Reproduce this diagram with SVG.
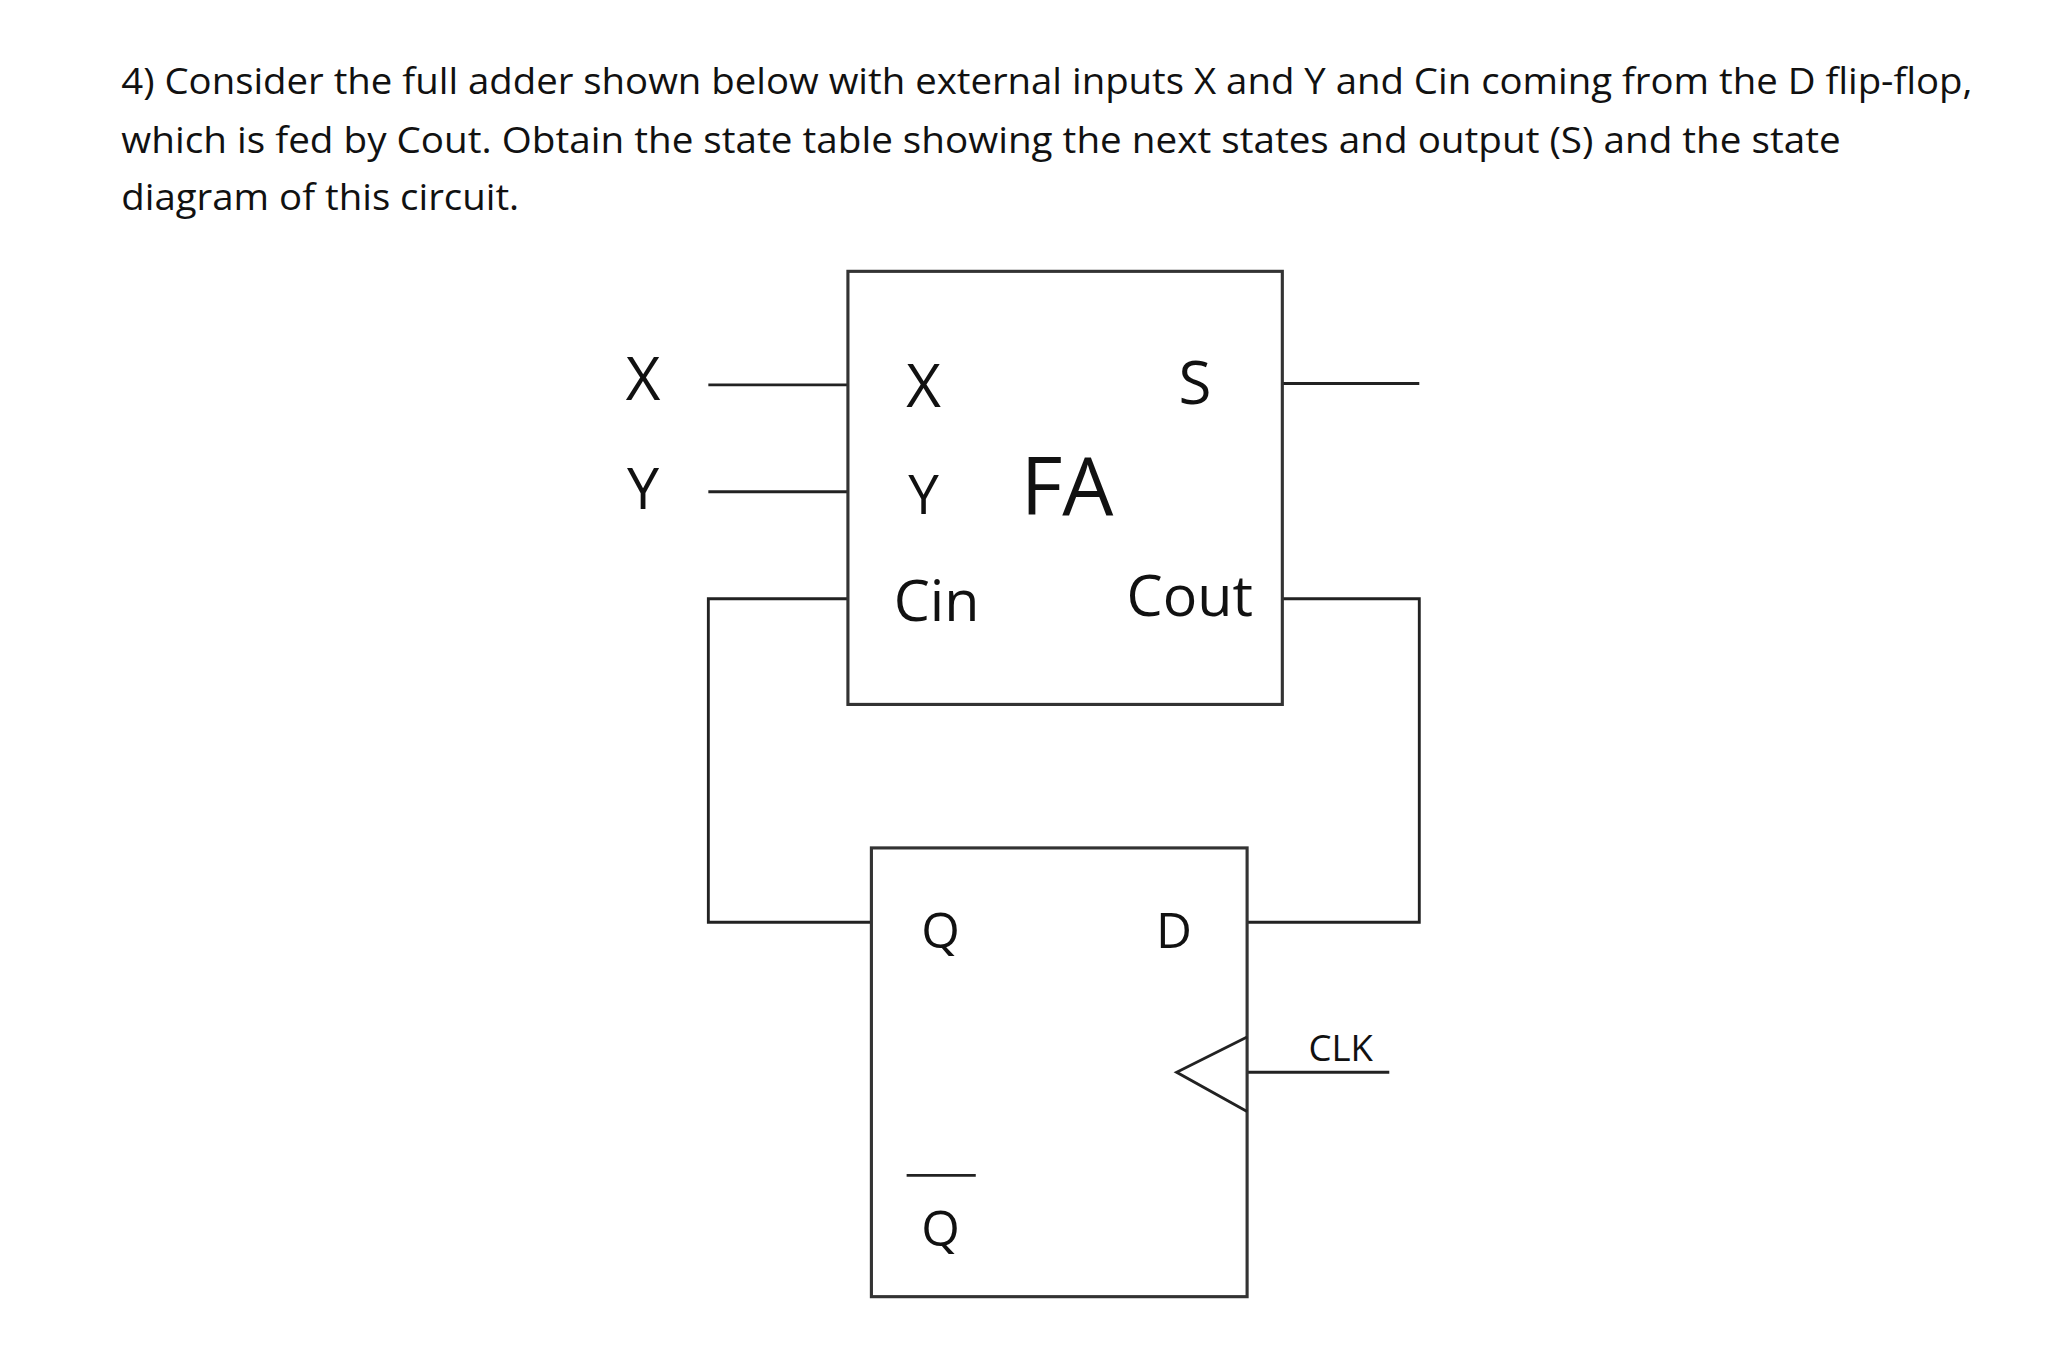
<svg xmlns="http://www.w3.org/2000/svg" width="2046" height="1347" viewBox="0 0 2046 1347">
<style>
.t{font-family:"Open Sans","Liberation Sans",sans-serif;fill:#111}
.w{fill:none;stroke:#222;stroke-width:2.2}
.b{fill:#fff;stroke:#333;stroke-width:2.4}
</style>
<rect width="2046" height="1347" fill="#fff"/>
<g transform="scale(1.3045)">
<g id="question" class="t" font-size="28">
<text x="93" y="72" textLength="1419" lengthAdjust="spacingAndGlyphs">4) Consider the full adder shown below with external inputs X and Y and Cin coming from the D flip-flop,</text>
<text x="93" y="117" textLength="1318" lengthAdjust="spacingAndGlyphs">which is fed by Cout.  Obtain the state table showing the next states and output (S) and the state</text>
<text x="93" y="161" textLength="305" lengthAdjust="spacingAndGlyphs">diagram of this circuit.</text>
</g>
<g id="connectors">
<line class="w" x1="543" y1="295" x2="650" y2="295"/>
<line class="w" x1="543" y1="377" x2="650" y2="377"/>
<line class="w" x1="983" y1="294" x2="1088" y2="294"/>
<polyline class="w" points="650,459 543,459 543,707 668,707"/>
<polyline class="w" points="983,459 1088,459 1088,707 956,707"/>
<line class="w" x1="956" y1="822" x2="1065" y2="822"/>
</g>
<g id="input-X"><text class="t" x="493" y="307" font-size="46" text-anchor="middle">X</text></g>
<g id="input-Y"><text class="t" x="493" y="390" font-size="44" text-anchor="middle">Y</text></g>
<g id="FA">
<rect class="b" x="650" y="208" width="333" height="332"/>
<text class="t" x="708" y="312" font-size="46" text-anchor="middle">X</text>
<text class="t" x="916" y="310" font-size="46" text-anchor="middle">S</text>
<text class="t" x="708" y="394" font-size="42" text-anchor="middle">Y</text>
<text class="t" x="818" y="395" font-size="62" text-anchor="middle">FA</text>
<text class="t" x="718" y="476" font-size="44" text-anchor="middle">Cin</text>
<text class="t" x="912" y="472" font-size="44" text-anchor="middle">Cout</text>
</g>
<g id="DFF">
<rect class="b" x="668" y="650" width="288" height="344"/>
<text class="t" x="721" y="727" font-size="38" text-anchor="middle">Q</text>
<text class="t" x="900" y="727" font-size="38" text-anchor="middle">D</text>
<line class="w" x1="695" y1="901" x2="748" y2="901"/>
<text class="t" x="721" y="955" font-size="38" text-anchor="middle">Q</text>
<polyline class="w" points="956,795 902,822 956,852"/>
<text class="t" x="1003" y="813" font-size="28">CLK</text>
</g>
</g>
</svg>
